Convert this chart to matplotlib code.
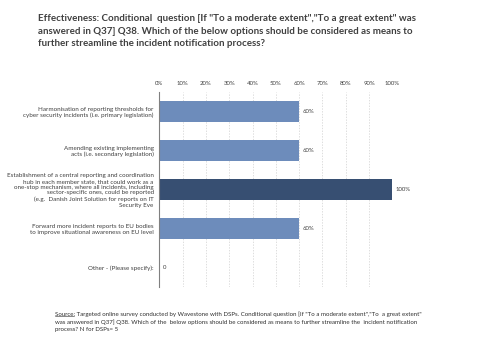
import matplotlib
matplotlib.use("Agg")
import matplotlib.pyplot as plt
import numpy as np

categories = [
    "Harmonisation of reporting thresholds for\ncyber security incidents (i.e. primary legislation)",
    "Amending existing implementing\nacts (i.e. secondary legislation)",
    "Establishment of a central reporting and coordination\nhub in each member state, that could work as a\none-stop mechanism, where all incidents, including\nsector-specific ones, could be reported\n(e.g.  Danish Joint Solution for reports on IT\nSecurity Eve",
    "Forward more incident reports to EU bodies\nto improve situational awareness on EU level",
    "Other - (Please specify):",
]
values = [0.6, 0.6, 1.0, 0.6, 0.0]
value_labels = ["60%", "60%", "100%", "60%", "0"]
bar_colors = ["#6d8cbb", "#6d8cbb", "#374f72", "#6d8cbb", "#6d8cbb"]
ticks = [0, 0.1, 0.2, 0.3, 0.4, 0.5, 0.6, 0.7, 0.8, 0.9, 1.0]
tick_labels = ["0%", "10%", "20%", "30%", "40%", "50%", "60%", "70%", "80%", "90%", "100%"]

title = ('Effectiveness: Conditional  question [If "To a moderate extent","To a great extent" was\n'
         'answered in Q37] Q38. Which of the below options should be considered as means to\n'
         'further streamline the incident notification process?')
source = ('Source: Targeted online survey conducted by Wavestone with DSPs. Conditional question [If "To a moderate extent","To  a great extent"\n'
          'was answered in Q37] Q38. Which of the  below options should be considered as means to further streamline the  incident notification\n'
          'process? N for DSPs= 5')

plt.rcParams['font.family'] = ['Lato', 'DejaVu Sans']

fig = plt.figure(figsize=(4.8, 3.6), dpi=100)
ax = fig.add_axes([159.3/480, 1-287/360, 233/480, 195/360])

y = np.arange(len(categories))
ax.barh(y, values, height=0.55, color=bar_colors, zorder=3)
ax.set_ylim(len(categories)-0.5, -0.5)
ax.set_xlim(0, 1.0)
ax.set_yticks(y)
ax.set_yticklabels(categories, fontsize=4.5, color="#404040", linespacing=1.2)
ax.tick_params(axis='y', length=0, pad=4)
ax.xaxis.tick_top()
ax.set_xticks(ticks)
ax.set_xticklabels(tick_labels, fontsize=4.3, color="#404040")
ax.tick_params(axis='x', length=0, pad=4)
ax.grid(axis='x', color="#d0d0d0", linestyle=(0, (2, 2)), linewidth=0.5, zorder=0)
for s in ['top', 'right', 'bottom']:
    ax.spines[s].set_visible(False)
ax.spines['left'].set_color("#808080")
ax.spines['left'].set_linewidth(0.8)
ax.spines['left'].set_zorder(4)

for yi, v, lab in zip(y, values, value_labels):
    ax.text(v + 0.015, yi, lab, va='center', ha='left', fontsize=4.3, color="#404040")

fig.text(38/480, 1-14/360, title, fontsize=7.0, fontweight='bold', color="#404040",
         va='top', ha='left', linespacing=1.5)

sx, sy = 55/480, 1-311/360
fs = 4.4
st = fig.text(sx, sy, source, fontsize=fs, color="#303030", va='top', ha='left', linespacing=1.5)
fig.canvas.draw()
r = fig.canvas.get_renderer()
tmp = fig.text(sx, sy, "Source", fontsize=fs, va='top', ha='left')
bb = tmp.get_window_extent(renderer=r)
tmp.remove()
fig.add_artist(plt.Line2D([bb.x0/480, bb.x1/480], [(bb.y0 + 0.3)/360, (bb.y0 + 0.3)/360],
                          transform=fig.transFigure, color="#303030", linewidth=0.4))

fig.savefig("out.png", dpi=100)
